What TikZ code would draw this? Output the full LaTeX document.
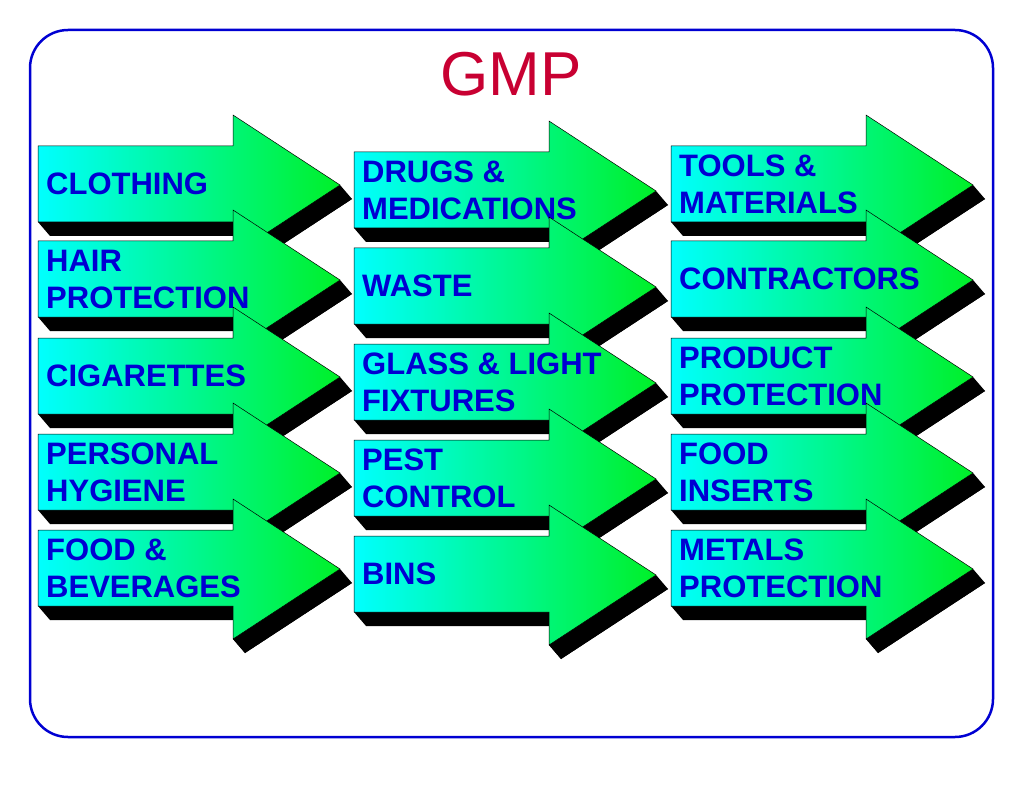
\documentclass[tikz,border=0pt]{standalone}
\usepackage{fontspec}
\setmainfont{Liberation Sans}
\definecolor{gcyan}{RGB}{0,255,255}
\definecolor{ggreen}{RGB}{0,240,40}
\definecolor{tblue}{RGB}{0,0,210}
\definecolor{gred}{RGB}{200,0,50}
\tikzset{lbl/.style={anchor=west,align=left,text=tblue,font=\bfseries\fontsize{31}{37}\selectfont,inner sep=0pt}}
\newcommand{\garrow}[4]{% x,y,name,text
  \begin{scope}[shift={(#1,#2)}]
  \fill[black] (12,14) -- (207,14) -- (207,-17) -- (314,53) -- (207,123) -- (207,90) -- (12,90) -- cycle;
  \fill[black] (0,0)--(12,14)--(12,90)--(0,76)--cycle;
  \fill[black] (195,76)--(207,90)--(207,123)--(195,109)--cycle;
  \fill[black] (195,109)--(207,123)--(314,53)--(302,39)--cycle;
  \shade[left color=gcyan,right color=ggreen,draw=black,line width=0.5pt] (0,0) -- (195,0) -- (195,-31) -- (302,39) -- (195,109) -- (195,76) -- (0,76) -- cycle;
  \node[lbl] (#3) at (8,38) {#4};
  \end{scope}}
\begin{document}
\begin{tikzpicture}[x=1pt,y=-1pt]
\useasboundingbox (0,0) rectangle (1024,791);
\draw[tblue,line width=2.5pt,rounded corners=38pt] (30,30) rectangle (993,737);
\node[text=gred,font=\fontsize{62}{64}\selectfont] (title) at (511,74) {GMP};
\garrow{38}{146}{a1}{CLOTHING}
\garrow{38}{241}{a2}{HAIR\\PROTECTION}
\garrow{38}{338}{a3}{CIGARETTES}
\garrow{38}{434}{a4}{PERSONAL\\HYGIENE}
\garrow{38}{530}{a5}{FOOD \&\\BEVERAGES}
\garrow{354}{152}{b1}{DRUGS \&\\MEDICATIONS}
\garrow{354}{248}{b2}{WASTE}
\garrow{354}{344}{b3}{GLASS \& LIGHT\\FIXTURES}
\garrow{354}{440}{b4}{PEST\\CONTROL}
\garrow{354}{536}{b5}{BINS}
\garrow{671}{146}{c1}{TOOLS \&\\MATERIALS}
\garrow{671}{241}{c2}{CONTRACTORS}
\garrow{671}{338}{c3}{PRODUCT\\PROTECTION}
\garrow{671}{434}{c4}{FOOD\\INSERTS}
\garrow{671}{530}{c5}{METALS\\PROTECTION}
\end{tikzpicture}
\end{document}
